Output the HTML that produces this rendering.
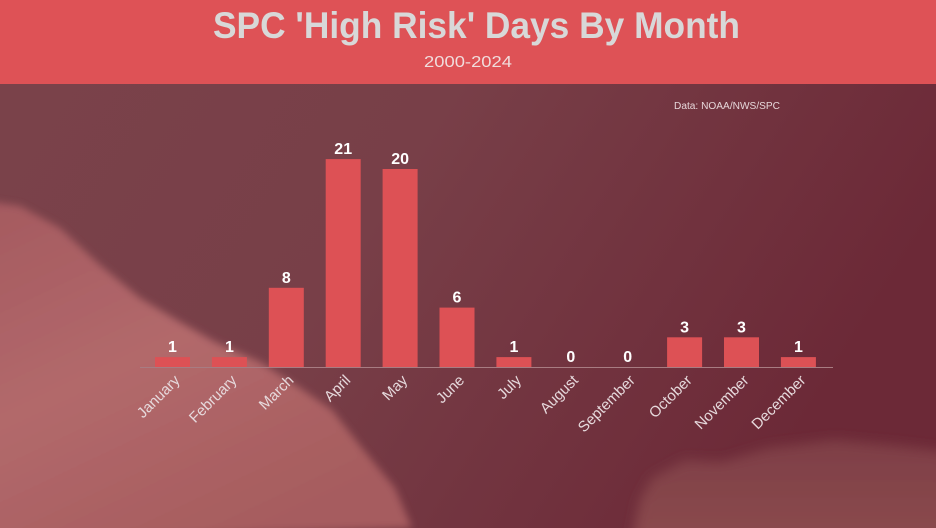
<!DOCTYPE html>
<html>
<head>
<meta charset="utf-8">
<style>
  html,body{margin:0;padding:0;background:#733a44;}
  body{width:936px;height:528px;overflow:hidden;}
  svg{display:block;}
  text{font-family:"Liberation Sans", Arial, sans-serif;}
</style>
</head>
<body>
<svg width="936" height="528" viewBox="0 0 936 528" xmlns="http://www.w3.org/2000/svg">
  <defs>
    <linearGradient id="bg" x1="0" y1="0" x2="1" y2="0.3">
      <stop offset="0" stop-color="#7a424a"/>
      <stop offset="0.45" stop-color="#783f48"/>
      <stop offset="1" stop-color="#6c2937"/>
    </linearGradient>
    <linearGradient id="cloud1" x1="0" y1="0" x2="0.6" y2="1">
      <stop offset="0" stop-color="#a4595f"/>
      <stop offset="0.5" stop-color="#b2696b"/>
      <stop offset="1" stop-color="#a65c5e"/>
    </linearGradient>
    <linearGradient id="cloud2" x1="0" y1="0" x2="0" y2="1">
      <stop offset="0" stop-color="#7e3f46"/>
      <stop offset="1" stop-color="#8b4a4e"/>
    </linearGradient>
    <filter id="blur6" x="-20%" y="-20%" width="140%" height="140%">
      <feGaussianBlur stdDeviation="6"/>
    </filter>
    <filter id="blur4" x="-20%" y="-20%" width="140%" height="140%">
      <feGaussianBlur stdDeviation="4"/>
    </filter>
  </defs>

  <!-- background -->
  <rect x="0" y="84" width="936" height="444" fill="url(#bg)"/>
  <!-- lower-left cloud -->
  <path d="M -20 200 L 20 206 L 60 228 L 100 265 L 140 298 L 180 322 L 215 342 L 260 362 L 300 388 L 332 410 L 362 448 L 395 488 L 412 528 L -20 540 Z"
        fill="url(#cloud1)" filter="url(#blur4)"/>
  <!-- lower-right cloud -->
  <path d="M 632 540 L 640 500 L 652 478 L 685 460 L 722 462 L 768 448 L 835 440 L 900 446 L 950 452 L 950 540 Z"
        fill="url(#cloud2)" filter="url(#blur6)"/>

  <!-- header band -->
  <rect x="0" y="0" width="936" height="84" fill="#de5256"/>
  <text x="476.5" y="38" text-anchor="middle" font-size="37" font-weight="bold" fill="#d8d8d8" textLength="527" lengthAdjust="spacingAndGlyphs">SPC 'High Risk' Days By Month</text>
  <text x="468" y="67" text-anchor="middle" font-size="16" fill="#f0dcdc" textLength="88" lengthAdjust="spacingAndGlyphs">2000-2024</text>

  <text x="674" y="109" font-size="10" fill="#e6d6d9" textLength="106" lengthAdjust="spacingAndGlyphs">Data: NOAA/NWS/SPC</text>

  <!-- axis line -->
  <line x1="140" y1="367.5" x2="833" y2="367.5" stroke="#a87c82" stroke-width="1"/>

  <!-- bars -->
  <g fill="#dd5155">
    <rect x="155" y="357.1" width="35" height="9.9"/>
    <rect x="211.9" y="357.1" width="35" height="9.9"/>
    <rect x="268.8" y="287.8" width="35" height="79.2"/>
    <rect x="325.7" y="159.1" width="35" height="207.9"/>
    <rect x="382.6" y="169" width="35" height="198"/>
    <rect x="439.5" y="307.6" width="35" height="59.4"/>
    <rect x="496.4" y="357.1" width="35" height="9.9"/>
    <rect x="667.1" y="337.3" width="35" height="29.7"/>
    <rect x="724" y="337.3" width="35" height="29.7"/>
    <rect x="780.9" y="357.1" width="35" height="9.9"/>
  </g>

  <!-- value labels -->
  <g font-size="16" font-weight="bold" fill="#ffffff" text-anchor="middle">
    <text x="172.5" y="352">1</text>
    <text x="229.4" y="352">1</text>
    <text x="286.3" y="282.8">8</text>
    <text x="343.2" y="154.1">21</text>
    <text x="400.1" y="164">20</text>
    <text x="457" y="302.6">6</text>
    <text x="513.9" y="352">1</text>
    <text x="570.8" y="362">0</text>
    <text x="627.7" y="362">0</text>
    <text x="684.6" y="332.3">3</text>
    <text x="741.5" y="332.3">3</text>
    <text x="798.4" y="352">1</text>
  </g>

  <!-- month labels -->
  <g font-size="15" fill="#e6d9dc" text-anchor="end" dominant-baseline="central">
    <text transform="translate(177.5,378) rotate(-45)">January</text>
    <text transform="translate(234.4,378) rotate(-45)">February</text>
    <text transform="translate(291.3,378) rotate(-45)">March</text>
    <text transform="translate(348.2,378) rotate(-45)">April</text>
    <text transform="translate(405.1,378) rotate(-45)">May</text>
    <text transform="translate(462,378) rotate(-45)">June</text>
    <text transform="translate(518.9,378) rotate(-45)">July</text>
    <text transform="translate(575.8,378) rotate(-45)">August</text>
    <text transform="translate(632.7,378) rotate(-45)">September</text>
    <text transform="translate(689.6,378) rotate(-45)">October</text>
    <text transform="translate(746.5,378) rotate(-45)">November</text>
    <text transform="translate(803.4,378) rotate(-45)">December</text>
  </g>
</svg>
</body>
</html>
